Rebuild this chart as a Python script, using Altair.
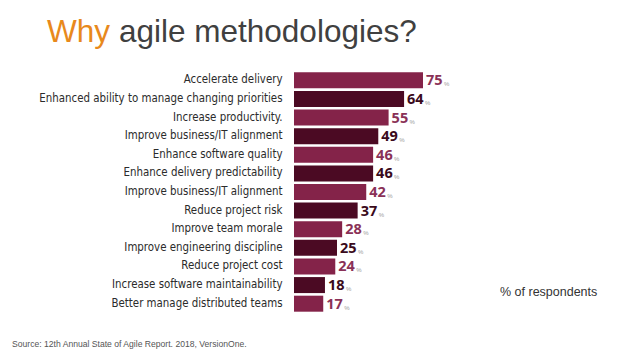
import altair as alt
import pandas as pd

categories = [
    "Accelerate delivery",
    "Enhanced ability to manage changing priorities",
    "Increase productivity.",
    "Improve business/IT alignment",
    "Enhance software quality",
    "Enhance delivery predictability",
    "Improve business/IT alignment ",
    "Reduce project risk",
    "Improve team morale",
    "Improve engineering discipline",
    "Reduce project cost",
    "Increase software maintainability",
    "Better manage distributed teams",
]
values = [75, 64, 55, 49, 46, 46, 42, 37, 28, 25, 24, 18, 17]

title_accent = "Why"
title_rest = "agile methodologies?"
unit_note = "% of respondents"
source_note = "Source: 12th Annual State of Agile Report. 2018, VersionOne."

df = pd.DataFrame({"category": categories, "value": values})

LIGHT = "#842349"
DARK = "#4b0a23"

base = alt.Chart(df).transform_window(
    idx="row_number()"
).transform_calculate(
    shade="datum.idx % 2 == 1 ? 'light' : 'dark'"
)

y_enc = alt.Y(
    "category:N",
    sort=categories,
    scale=alt.Scale(paddingInner=0.14, paddingOuter=0.07),
    axis=alt.Axis(
        title=None,
        domain=False,
        ticks=False,
        labelPadding=12,
        labelFont="DejaVu Sans Condensed",
        labelFontSize=11.4,
        labelColor="#2b2b2b",
        labelLimit=400,
    ),
)
x_enc = alt.X(
    "value:Q",
    scale=alt.Scale(domain=[0, 75], nice=False, zero=True),
    axis=None,
)
shade_scale = alt.Scale(domain=["light", "dark"], range=[LIGHT, DARK])

bars = base.mark_bar(cornerRadius=0).encode(
    y=y_enc,
    x=x_enc,
    color=alt.Color("shade:N", scale=shade_scale, legend=None),
)

num_labels = base.mark_text(
    align="left", baseline="middle", dx=3, dy=1,
    font="Open Sans", fontWeight="bold", fontSize=14.5,
).encode(
    y=alt.Y("category:N", sort=categories),
    x="value:Q",
    text=alt.Text("value:Q"),
    color=alt.Color("shade:N", scale=alt.Scale(domain=["light", "dark"], range=["#8a3157", "#3a0a1b"]), legend=None),
)

pct_labels = base.mark_text(
    align="left", baseline="middle", dx=21, dy=4,
    font="Liberation Sans", fontSize=6, color="#9a9a9a",
).encode(
    y=alt.Y("category:N", sort=categories),
    x="value:Q",
    text=alt.value("%"),
)

t1 = alt.Chart(pd.DataFrame({"t": [title_accent]})).mark_text(
    align="left", baseline="alphabetic", font="Liberation Sans", fontSize=31.5, color="#E8891C"
).encode(x=alt.value(-247), y=alt.value(-29), text="t:N")

t2 = alt.Chart(pd.DataFrame({"t": [title_rest]})).mark_text(
    align="left", baseline="alphabetic", font="Liberation Sans", fontSize=31.5, color="#404040"
).encode(x=alt.value(-175), y=alt.value(-29), text="t:N")

unit = alt.Chart(pd.DataFrame({"t": [unit_note]})).mark_text(
    align="left", baseline="middle", font="Liberation Sans", fontSize=12.5, color="#333333"
).encode(x=alt.value(206), y=alt.value(221), text="t:N")

src = alt.Chart(pd.DataFrame({"t": [source_note]})).mark_text(
    align="left", baseline="middle", font="Liberation Sans", fontSize=8.6, color="#555555"
).encode(x=alt.value(-282), y=alt.value(273), text="t:N")

chart = alt.layer(bars, num_labels, pct_labels, t1, t2, unit, src).resolve_scale(
    color="independent"
).properties(
    width=129,
    height=242,
    padding={"left": 286, "top": 63, "right": 207, "bottom": 38},
    autosize=alt.AutoSizeParams(type="none"),
    background="white",
).configure_view(stroke=None)

chart.save("out.html", embed_options={"renderer": "svg", "actions": False})
